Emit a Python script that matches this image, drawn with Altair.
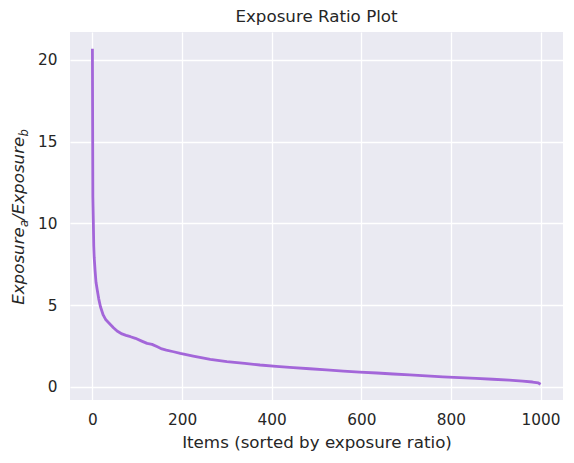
import altair as alt
import pandas as pd

# Item index (sorted by exposure ratio) and exposure ratio
items = [0, 1, 2, 3, 4, 6, 8, 11, 14, 18, 24, 30, 39, 47, 55, 66, 75, 85, 96,
         110, 122, 133, 145, 155, 165, 181, 196, 225, 263, 300, 340, 374, 410,
         448, 485, 522, 560, 596, 635, 671, 708, 745, 782, 819, 856, 893, 930,
         960, 982, 995, 1000]
ratios = [20.67, 11.6, 10.2, 8.6, 7.9, 7.1, 6.4, 5.9, 5.4, 4.9, 4.4, 4.1, 3.85,
          3.62, 3.42, 3.24, 3.15, 3.07, 2.97, 2.8, 2.66, 2.6, 2.45, 2.32, 2.25,
          2.15, 2.05, 1.89, 1.68, 1.54, 1.44, 1.34, 1.26, 1.18, 1.11, 1.04,
          0.97, 0.91, 0.85, 0.79, 0.73, 0.67, 0.62, 0.57, 0.52, 0.47, 0.41,
          0.36, 0.30, 0.24, 0.16]
x_ticks = [0, 200, 400, 600, 800, 1000]
y_ticks = [0, 5, 10, 15, 20]

df = pd.DataFrame({"item": items, "ratio": ratios})

FONT = "DejaVu Sans"
TXT = "#262626"

line = alt.Chart(df).mark_line(color="#a366d9", strokeWidth=2.8, strokeJoin="round").encode(
    x=alt.X("item:Q",
            scale=alt.Scale(domain=[-50, 1050], nice=False, zero=False),
            axis=alt.Axis(values=x_ticks, format="d", title="Items (sorted by exposure ratio)",
                          titleFontSize=16.7, titleFontWeight="normal", titleColor=TXT,
                          titleFont=FONT, titlePadding=7,
                          labelFontSize=15.3, labelColor=TXT, labelFont=FONT,
                          labelPadding=12, ticks=False, domain=False,
                          grid=True, gridColor="white", gridWidth=1.3)),
    y=alt.Y("ratio:Q",
            scale=alt.Scale(domain=[-0.8, 21.7], nice=False, zero=False),
            axis=alt.Axis(values=y_ticks, title=None,
                          labelFontSize=15.3, labelColor=TXT, labelFont=FONT,
                          labelPadding=13, ticks=False, domain=False,
                          grid=True, gridColor="white", gridWidth=1.3)),
)

# y-axis title built as mathtext-like pieces: Exposure_a/Exposure_b
MAIN = 16.7
SUB = 11.7
LEFT = 70
TOP = 32
base_x = 24 - LEFT
sub_x = 27.5 - LEFT
pieces = [
    ("Exposure", MAIN, base_x, 304.8),
    ("a", SUB, sub_x, 227.1),
    ("/", MAIN, base_x, 219.9),
    ("Exposure", MAIN, base_x, 214.3),
    ("b", SUB, sub_x, 136.6),
]
label_layers = []
for txt, fs, px, py in pieces:
    label_layers.append(
        alt.Chart(alt.Data(values=[{}])).mark_text(
            text=txt, font=FONT, fontStyle="italic", fontSize=fs, color=TXT,
            angle=270, align="left", baseline="alphabetic"
        ).encode(x=alt.value(px), y=alt.value(py - TOP))
    )

chart = alt.layer(line, *label_layers).properties(
    width=493, height=368,
    title=alt.TitleParams("Exposure Ratio Plot", fontSize=16.7, fontWeight="normal",
                          color=TXT, font=FONT, anchor="middle", offset=6),
    autosize=alt.AutoSizeParams(type="none"),
    padding={"left": LEFT, "top": TOP, "right": 11, "bottom": 63},
    background="white",
).configure_view(fill="#EAEAF2", stroke=None)

chart.save("out.html", embed_options={"renderer": "svg", "actions": False})
